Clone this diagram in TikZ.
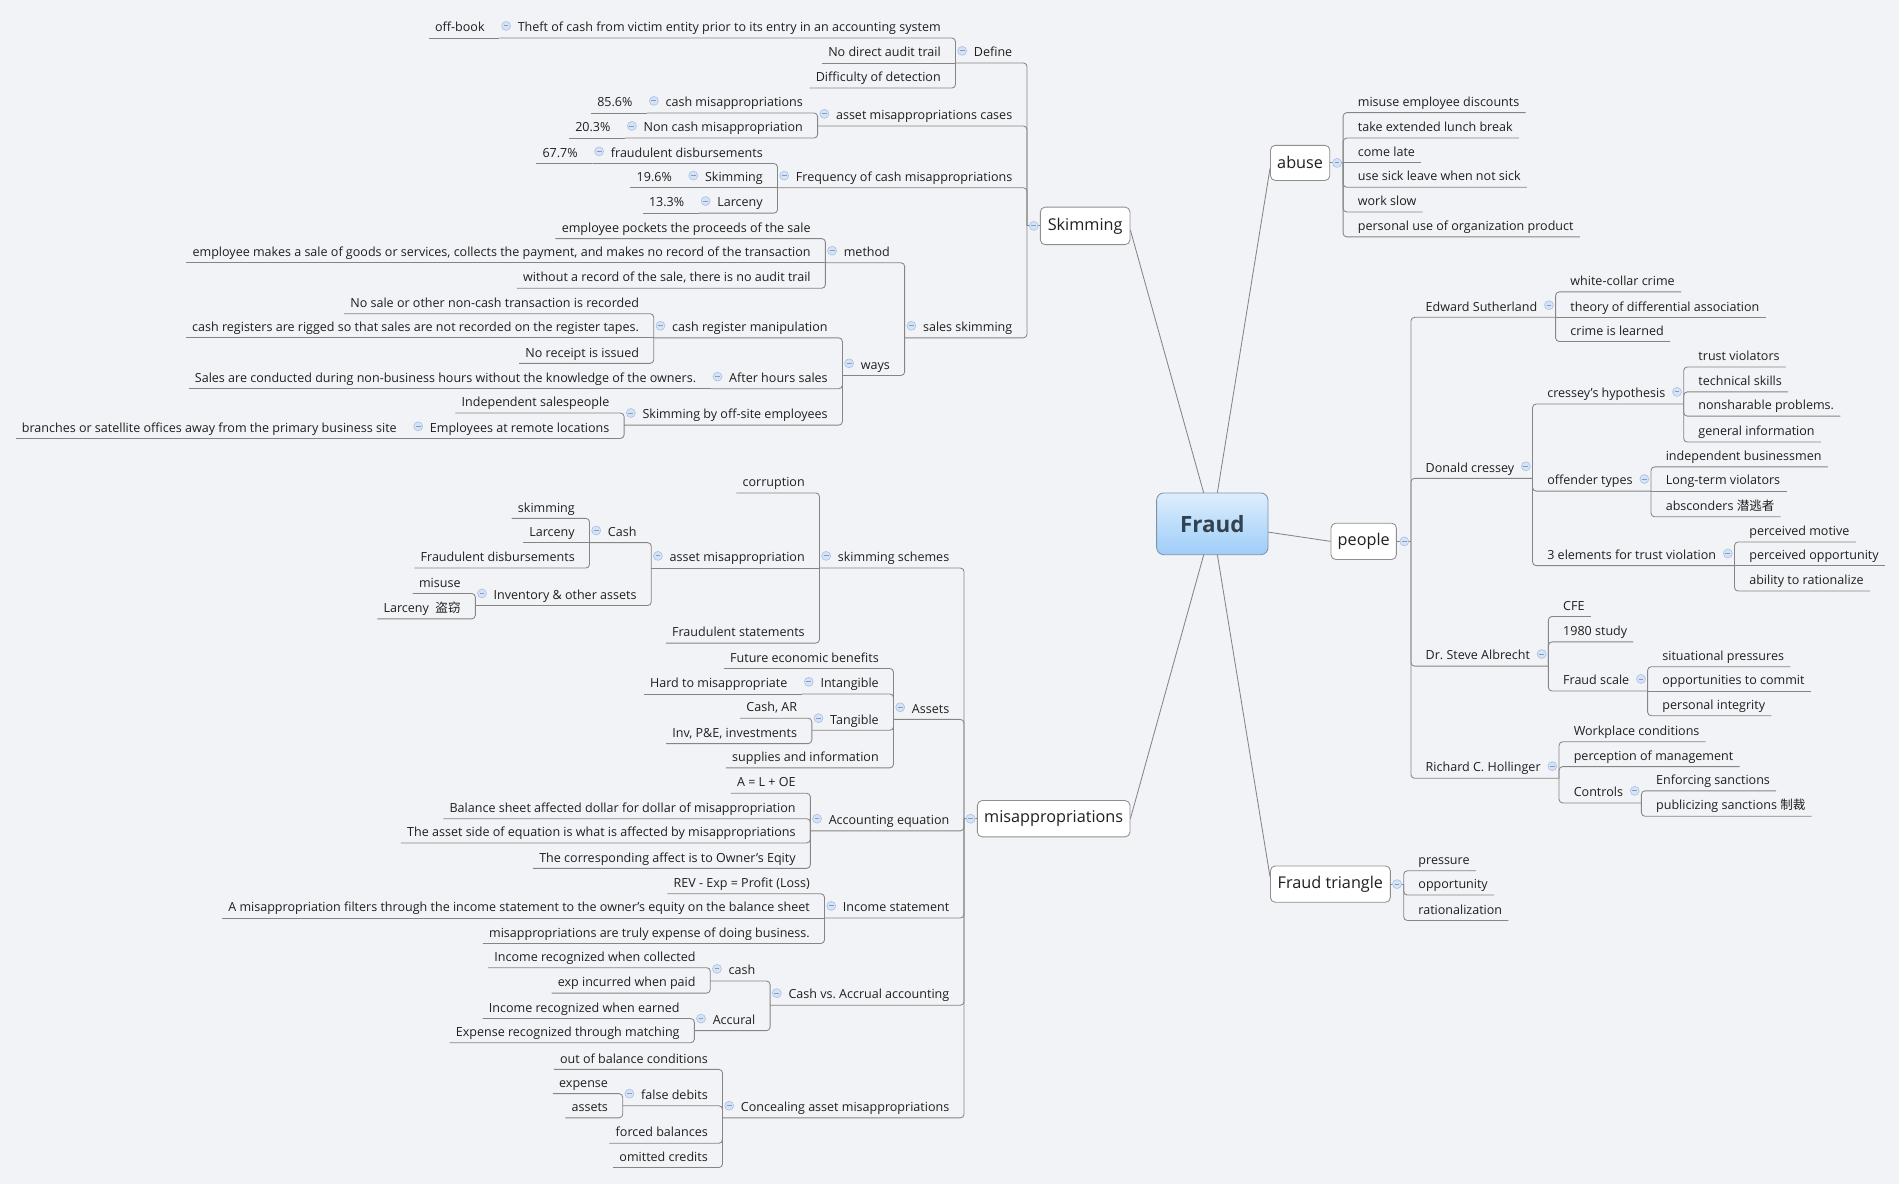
\documentclass[tikz,border=0pt]{standalone}
\usepackage{fontspec}
\setmainfont{Open Sans}
\newfontfamily\cjk{Noto Sans CJK SC}
\frenchspacing
\definecolor{bgc}{HTML}{F2F3F7}
\definecolor{linec}{HTML}{858585}
\definecolor{txtc}{HTML}{1F1F1F}
\definecolor{boxc}{HTML}{8E8E8E}
\definecolor{circf}{HTML}{D5E3F5}
\definecolor{circd}{HTML}{A9C1E2}
\definecolor{circm}{HTML}{7E9ECB}
\definecolor{ftop}{HTML}{DDEEFD}
\definecolor{fbot}{HTML}{9ECDF8}
\definecolor{fdraw}{HTML}{7F93A8}
\definecolor{ftxt}{HTML}{34414F}
\pgfdeclarelayer{back}
\pgfdeclarelayer{spokes}
\pgfsetlayers{back,spokes,main}
\tikzset{
 conn/.style={draw=linec, line width=0.7pt, rounded corners=3pt},
 lt/.style={font=\fontsize{10.35}{12}\selectfont, text=txtc, inner xsep=5pt, inner ysep=0pt, text height=8pt, text depth=5pt},
 circ/.style={circle, minimum size=7.4pt, inner sep=0pt, fill=circf, draw=circd, line width=0.5pt,
   path picture={\draw[circm, line width=0.7pt] ([xshift=-2pt]path picture bounding box.center) -- ([xshift=2pt]path picture bounding box.center);}},
 topic/.style={draw=boxc, fill=white, rounded corners=4pt, line width=0.7pt, font=\fontsize{13.4}{16}\selectfont, text=txtc, inner sep=0pt},
 central/.style={draw=fdraw, top color=ftop, bottom color=fbot, rounded corners=6pt, line width=0.7pt, font=\fontsize{18.5}{22}\selectfont\bfseries, text=ftxt, inner sep=0pt},
 spoke/.style={draw=linec, line width=0.7pt},
}
% left side
\newcommand\mmLL[4]{%
  \node[lt, anchor=south east, xshift=-7pt] (#1) at (#2 |- 0,#3) {#4};
  \draw[conn] (#1.south west) -- (#2 |- #1.south) -- (#2);}
\newcommand\mmLLs[4]{%
  \node[lt, anchor=south east, xshift=-7pt] (#1) at (#2 |- 0,#3) {#4};
  \draw[conn] (#1.south west) -- (#2);}
\newcommand\mmLP[4]{%
  \node[lt, anchor=south east, xshift=-7pt] (#1) at (#2 |- 0,#3) {#4};
  \coordinate (#1T) at ([xshift=-10pt]#1.south west);
  \node[circ] (#1c) at ([shift={(5.5,-10)}]#1T) {};
  \draw[conn] (#1T) -- (#2 |- #1T) -- (#2);}
\newcommand\mmLPs[4]{%
  \node[lt, anchor=south east, xshift=-7pt] (#1) at (#2 |- 0,#3) {#4};
  \coordinate (#1T) at ([xshift=-10pt]#1.south west);
  \node[circ] (#1c) at ([shift={(5.5,-10)}]#1T) {};
  \draw[conn] (#1T) -- (#2);}
% right side
\newcommand\mmRL[4]{%
  \node[lt, anchor=south west, xshift=7pt] (#1) at (#2 |- 0,#3) {#4};
  \draw[conn] (#1.south east) -- (#2 |- #1.south) -- (#2);}
\newcommand\mmRLs[4]{%
  \node[lt, anchor=south west, xshift=7pt] (#1) at (#2 |- 0,#3) {#4};
  \draw[conn] (#1.south east) -- (#2);}
\newcommand\mmRP[4]{%
  \node[lt, anchor=south west, xshift=7pt] (#1) at (#2 |- 0,#3) {#4};
  \coordinate (#1T) at ([xshift=10pt]#1.south east);
  \node[circ] (#1c) at ([shift={(-5.5,-10)}]#1T) {};
  \draw[conn] (#1T) -- (#2 |- #1T) -- (#2);}
\begin{document}
\begin{tikzpicture}[x=1pt, y=-1pt]
\begin{pgfonlayer}{back}
\fill[bgc] (0,0) rectangle (1568,978);
\end{pgfonlayer}
\useasboundingbox (0,0) rectangle (1568,978);

% central
\node[central, minimum width=92pt, minimum height=51pt] (fraud) at (1001,432.5) {Fraud};

% main topics
\node[topic, minimum width=74pt, minimum height=31pt] (skim) at (896,186.5) {Skimming};
\coordinate (skimT) at (848,186.5);
\draw[conn] (skimT) -- (skim.west);
\node[circ] (skimc) at (853.5,186.5) {};

\node[topic, minimum width=126pt, minimum height=30pt] (misapp) at (870,676) {misappropriations};
\coordinate (misappT) at (796,676);
\draw[conn] (misappT) -- (misapp.west);
\node[circ] (misappc) at (801.5,676) {};

\node[topic, minimum width=49pt, minimum height=29pt] (abuse) at (1073.5,134.5) {abuse};
\coordinate (abuseT) at (1109,134.5);
\draw[conn] (abuseT) -- (abuse.east);
\node[circ] (abusec) at (1104,134.5) {};

\node[topic, minimum width=54pt, minimum height=30pt] (people) at (1126,447) {people};
\coordinate (peopleT) at (1165,447);
\draw[conn] (peopleT) -- (people.east);
\node[circ] (peoplec) at (1159.5,447) {};

\node[topic, minimum width=99pt, minimum height=30pt] (tri) at (1098.5,730) {Fraud triangle};
\coordinate (triT) at (1159,730);
\draw[conn] (triT) -- (tri.east);
\node[circ] (tric) at (1153.5,730) {};

\begin{pgfonlayer}{spokes}
\draw[spoke] (fraud.center) -- ([yshift=-3.5pt]skim.east);
\draw[spoke] (fraud.center) -- ([yshift=-4.5pt]abuse.west);
\draw[spoke] (fraud.center) -- (people.west);
\draw[spoke] (fraud.center) -- (misapp.east);
\draw[spoke] (fraud.center) -- ([yshift=6pt]tri.west);
\end{pgfonlayer}

% ---------- Skimming branch
\mmLP{def}{skimT}{52}{Define}
\mmLP{amc}{skimT}{104}{asset misappropriations cases}
\mmLP{freq}{skimT}{155}{Frequency of cash misappropriations}
\mmLP{ss}{skimT}{279}{sales skimming}

\mmLP{theft}{defT}{31.4}{Theft of cash from victim entity prior to its entry in an accounting system}
\mmLLs{offb}{theftT}{31.4}{off-book}
\mmLLs{nodir}{defT}{52}{No direct audit trail}
\mmLL{diff}{defT}{72.7}{Difficulty of detection}

\mmLP{cashm}{amcT}{93.3}{cash misappropriations}
\mmLLs{pa}{cashmT}{93.3}{85.6\%}
\mmLP{noncash}{amcT}{114}{Non cash misappropriation}
\mmLLs{pb}{noncashT}{114}{20.3\%}

\mmLP{fdis}{freqT}{135}{fraudulent disbursements}
\mmLLs{pc}{fdisT}{135}{67.7\%}
\mmLPs{fskim}{freqT}{155}{Skimming}
\mmLLs{pd}{fskimT}{155}{19.6\%}
\mmLP{flarc}{freqT}{176}{Larceny}
\mmLLs{pe}{flarcT}{176}{13.3\%}

\mmLP{meth}{ssT}{217}{method}
\mmLP{ways}{ssT}{310}{ways}
\mmLL{ma}{methT}{197}{employee pockets the proceeds of the sale}
\mmLLs{mb}{methT}{217}{employee makes a sale of goods or services, collects the payment, and makes no record of the transaction}
\mmLL{mc}{methT}{238}{without a record of the sale, there is no audit trail}

\mmLP{crm}{waysT}{279}{cash register manipulation}
\mmLP{ahs}{waysT}{321}{After hours sales}
\mmLP{soff}{waysT}{351}{Skimming by off-site employees}
\mmLL{ca}{crmT}{259}{No sale or other non-cash transaction is recorded}
\mmLLs{cb}{crmT}{279}{cash registers are rigged so that sales are not recorded on the register tapes.}
\mmLL{cc}{crmT}{300}{No receipt is issued}
\mmLLs{aa}{ahsT}{321}{Sales are conducted during non-business hours without the knowledge of the owners.}
\mmLL{sa}{soffT}{341}{Independent salespeople}
\mmLP{sb}{soffT}{362}{Employees at remote locations}
\mmLLs{sc}{sbT}{362}{branches or satellite offices away from the primary business site}

% ---------- misappropriations branch
\mmLP{sks}{misappT}{469}{skimming schemes}
\mmLP{assets}{misappT}{594}{Assets}
\mmLP{acceq}{misappT}{686}{Accounting equation}
\mmLP{inc}{misappT}{758}{Income statement}
\mmLP{cva}{misappT}{830}{Cash vs. Accrual accounting}
\mmLP{conc}{misappT}{923}{Concealing asset misappropriations}

\mmLL{corr}{sksT}{407}{corruption}
\mmLPs{am}{sksT}{469}{asset misappropriation}
\mmLL{fst}{sksT}{531}{Fraudulent statements}
\mmLP{cashx}{amT}{448}{Cash}
\mmLP{inv}{amT}{500}{Inventory \& other assets}
\mmLL{ka}{cashxT}{428}{skimming}
\mmLLs{kb}{cashxT}{448}{Larceny}
\mmLL{kc}{cashxT}{469}{Fraudulent disbursements}
\mmLL{ia}{invT}{490}{misuse}
\mmLL{ib}{invT}{511}{Larceny\ \ {\cjk 盗窃}}

\mmLL{fa}{assetsT}{552}{Future economic benefits}
\mmLP{intang}{assetsT}{573}{Intangible}
\mmLLs{ha}{intangT}{573}{Hard to misappropriate}
\mmLP{tang}{assetsT}{603}{Tangible}
\mmLL{ta}{tangT}{593}{Cash, AR}
\mmLL{tb}{tangT}{614}{Inv, P\&E, investments}
\mmLL{sup}{assetsT}{634}{supplies and information}

\mmLL{ea}{acceqT}{655}{A = L + OE}
\mmLL{eb}{acceqT}{676}{Balance sheet affected dollar for dollar of misappropriation}
\mmLL{ec}{acceqT}{696}{The asset side of equation is what is affected by misappropriations}
\mmLL{ed}{acceqT}{717}{The corresponding affect is to Owner's Eqity}

\mmLL{ra}{incT}{738}{REV - Exp = Profit (Loss)}
\mmLLs{rb}{incT}{758}{A misappropriation filters through the income statement to the owner's equity on the balance sheet}
\mmLL{rc}{incT}{779}{misappropriations are truly expense of doing business.}

\mmLP{cashc}{cvaT}{810}{cash}
\mmLP{accr}{cvaT}{851}{Accural}
\mmLL{cca}{cashcT}{799}{Income recognized when collected}
\mmLL{ccb}{cashcT}{820}{exp incurred when paid}
\mmLL{aca}{accrT}{841}{Income recognized when earned}
\mmLL{acb}{accrT}{861}{Expense recognized through matching}

\mmLL{oa}{concT}{883}{out of balance conditions}
\mmLP{fdb}{concT}{913}{false debits}
\mmLL{fda}{fdbT}{903}{expense}
\mmLL{fdc}{fdbT}{923}{assets}
\mmLL{ob}{concT}{944}{forced balances}
\mmLL{oc}{concT}{964}{omitted credits}

% ---------- abuse
\mmRL{aba}{abuseT}{93}{misuse employee discounts}
\mmRL{abb}{abuseT}{114}{take extended lunch break}
\mmRLs{abc}{abuseT}{134.5}{come late}
\mmRL{abd}{abuseT}{154.6}{use sick leave when not sick}
\mmRL{abe}{abuseT}{175}{work slow}
\mmRL{abf}{abuseT}{195.6}{personal use of organization product}

% ---------- people
\mmRP{eds}{peopleT}{262}{Edward Sutherland}
\mmRL{edsa}{edsT}{241}{white-collar crime}
\mmRLs{edsb}{edsT}{262}{theory of differential association}
\mmRL{edsc}{edsT}{282}{crime is learned}

\mmRP{dc}{peopleT}{395}{Donald cressey}
\mmRP{ch}{dcT}{333.6}{cressey's hypothesis}
\mmRL{cha}{chT}{303}{trust violators}
\mmRL{chb}{chT}{323.6}{technical skills}
\mmRL{chc}{chT}{343.6}{nonsharable problems.}
\mmRL{chd}{chT}{365}{general information}
\mmRP{ot}{dcT}{405.5}{offender types}
\mmRL{ota}{otT}{385.5}{independent businessmen}
\mmRLs{otb}{otT}{405.5}{Long-term violators}
\mmRL{otc}{otT}{426.7}{absconders {\cjk 潜逃者}}
\mmRP{te}{dcT}{467}{3 elements for trust violation}
\mmRL{tea}{teT}{447.5}{perceived motive}
\mmRLs{teb}{teT}{467}{perceived opportunity}
\mmRL{tec}{teT}{488}{ability to rationalize}

\mmRP{sal}{peopleT}{550}{Dr. Steve Albrecht}
\mmRL{sala}{salT}{509}{CFE}
\mmRL{salb}{salT}{530}{1980 study}
\mmRP{fs}{salT}{570.6}{Fraud scale}
\mmRL{fsa}{fsT}{550.5}{situational pressures}
\mmRLs{fsb}{fsT}{570.6}{opportunities to commit}
\mmRL{fsc}{fsT}{591}{personal integrity}

\mmRP{rh}{peopleT}{642.6}{Richard C. Hollinger}
\mmRL{rha}{rhT}{612.5}{Workplace conditions}
\mmRL{rhb}{rhT}{633}{perception of management}
\mmRP{ctl}{rhT}{663}{Controls}
\mmRL{ctla}{ctlT}{653}{Enforcing sanctions}
\mmRL{ctlb}{ctlT}{674}{publicizing sanctions {\cjk 制裁}}

% ---------- Fraud triangle
\mmRL{tra}{triT}{719}{pressure}
\mmRL{trb}{triT}{739}{opportunity}
\mmRL{trc}{triT}{760}{rationalization}
\end{tikzpicture}
\end{document}
